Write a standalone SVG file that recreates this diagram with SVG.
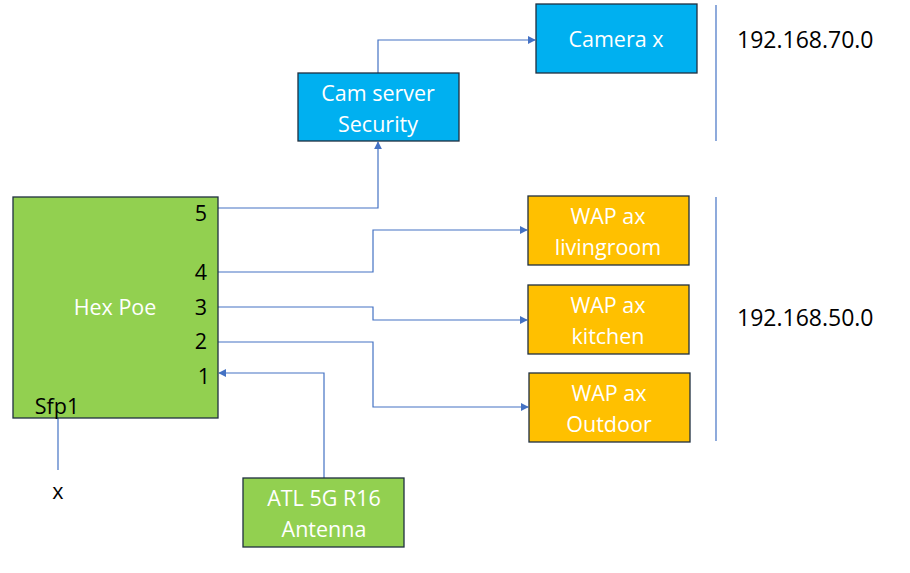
<svg xmlns="http://www.w3.org/2000/svg" width="910" height="573" viewBox="0 0 910 573">
<style>
.box{stroke:#1f2f3f;stroke-width:1.3}
.g{fill:#92D050}.b{fill:#00B0F0}.o{fill:#FFC000}
.w{fill:#ffffff;font-family:"Open Sans","Liberation Sans",sans-serif;font-size:21.5px;text-anchor:middle}
.k{fill:#000000;font-family:"Open Sans","Liberation Sans",sans-serif;font-size:21.5px}
.ip{fill:#000000;font-family:"Open Sans","Liberation Sans",sans-serif;font-size:23px}
.c{fill:none;stroke:#4472C4;stroke-width:1.2}
.sep{stroke:#4472C4;stroke-width:1.2}
</style>
<defs>
<marker id="ah" viewBox="0 0 10 10" refX="9" refY="5" markerWidth="8" markerHeight="8" markerUnits="userSpaceOnUse" orient="auto">
<path d="M0,0 L10,5 L0,10 z" fill="#4472C4"/>
</marker>
</defs>
<g id="connectors">
<path class="c" d="M218,208 H378 V142" marker-end="url(#ah)"/>
<path class="c" d="M378,73 V40 H535" marker-end="url(#ah)"/>
<path class="c" d="M218,272 H373 V230 H527" marker-end="url(#ah)"/>
<path class="c" d="M218,307 H373 V320 H527" marker-end="url(#ah)"/>
<path class="c" d="M218,342 H373 V407 H528" marker-end="url(#ah)"/>
<path class="c" d="M324,478 V373 H219" marker-end="url(#ah)"/>
<path class="c" d="M58,418 V470"/>
</g>
<g id="hexpoe">
<rect class="box g" x="13" y="197" width="205" height="221"/>
<text class="w" x="115" y="315">Hex Poe</text>
<text class="k" x="201" y="221" text-anchor="middle">5</text>
<text class="k" x="201" y="280" text-anchor="middle">4</text>
<text class="k" x="201" y="315" text-anchor="middle">3</text>
<text class="k" x="201" y="349" text-anchor="middle">2</text>
<text class="k" x="204" y="384" text-anchor="middle">1</text>
<text class="k" x="57" y="414" text-anchor="middle">Sfp1</text>
</g>
<g id="x-label"><text class="k" x="58" y="499" text-anchor="middle">x</text></g>
<g id="camserver">
<rect class="box b" x="298" y="73" width="161" height="68"/>
<text class="w" x="378" y="101">Cam server</text>
<text class="w" x="378" y="132">Security</text>
</g>
<g id="camera">
<rect class="box b" x="536" y="4" width="161" height="69"/>
<text class="w" x="616" y="47">Camera x</text>
</g>
<g id="wap-living">
<rect class="box o" x="528" y="196" width="161" height="69"/>
<text class="w" x="608" y="224">WAP ax</text>
<text class="w" x="608" y="255">livingroom</text>
</g>
<g id="wap-kitchen">
<rect class="box o" x="528" y="285" width="161" height="69"/>
<text class="w" x="608" y="313">WAP ax</text>
<text class="w" x="608" y="344">kitchen</text>
</g>
<g id="wap-outdoor">
<rect class="box o" x="529" y="373" width="161" height="69"/>
<text class="w" x="609" y="401">WAP ax</text>
<text class="w" x="609" y="432">Outdoor</text>
</g>
<g id="atl">
<rect class="box g" x="243" y="478" width="161" height="69"/>
<text class="w" x="324" y="506">ATL 5G R16</text>
<text class="w" x="324" y="537">Antenna</text>
</g>
<g id="subnets">
<line class="sep" x1="716" y1="5" x2="716" y2="141"/>
<line class="sep" x1="716" y1="197" x2="716" y2="441"/>
<text class="ip" x="737" y="48">192.168.70.0</text>
<text class="ip" x="737" y="326">192.168.50.0</text>
</g>
</svg>
